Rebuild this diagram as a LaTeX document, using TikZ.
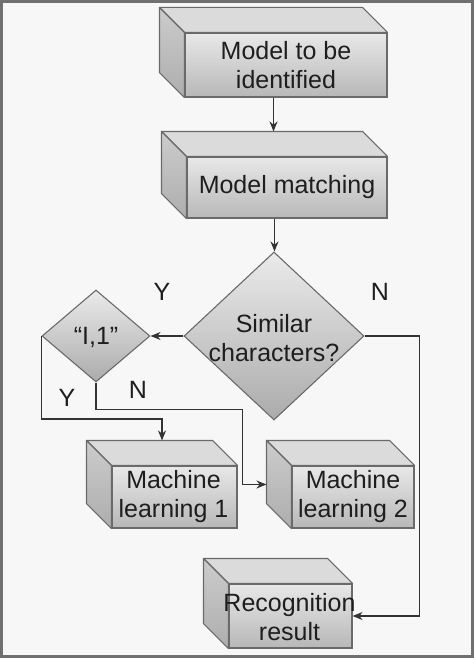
\documentclass[tikz,border=0pt]{standalone}
\usepackage{fontspec}
\setmainfont{Liberation Sans}
\usetikzlibrary{shapes.geometric,arrows.meta,calc}
\definecolor{edgec}{HTML}{6A6A6A}
\definecolor{linec}{HTML}{333333}
\definecolor{txtc}{HTML}{1E1E1E}
\definecolor{bgc}{HTML}{F7F7F7}
\definecolor{framec}{HTML}{707070}
\newcommand\cubefaces[1]{%
  \draw[face,fill=topface] (#1.north west) -- ++(-25,-25) -- ($(#1.north east)+(-25,-25)$) -- (#1.north east) -- cycle;
  \draw[face,top color=leftA,bottom color=leftB] (#1.north west) -- ++(-25,-25) -- ($(#1.south west)+(-25,-25)$) -- (#1.south west) -- cycle;
  \coordinate (#1-top) at ($(#1.north)+(-12.5,-25)$);
  \coordinate (#1-bot) at ($(#1.south)+(-12.5,0)$);
  \coordinate (#1-left) at ($(#1.west)+(-25,-12.5)$);
}
\colorlet{topface}{black!14}
\colorlet{leftA}{black!20}
\colorlet{leftB}{black!32}
\tikzset{
  face/.style={draw=edgec,line width=1.1pt,line join=round},
  front/.style={draw=edgec,line width=1.1pt,top color=black!9,bottom color=black!28,inner sep=0pt,shape=rectangle},
  dia/.style={draw=edgec,line width=1.1pt,shape=diamond,top color=black!8,bottom color=black!33,inner sep=0pt},
  txt/.style={text=txtc,font=\fontsize{25}{29}\selectfont,align=center,inner sep=0pt},
  conn/.style={draw=linec,line width=1.3pt},
  arr/.style={conn,-{Stealth[length=10pt,width=8pt]}}
}
\begin{document}
\begin{tikzpicture}[x=1pt,y=-1pt]
\useasboundingbox (0,0) rectangle (474,658);
\fill[bgc] (0,0) rectangle (474,658);
\draw[framec,line width=3pt] (1.5,1.5) rectangle (472.5,656.5);
% boxes
\node[front,minimum width=202pt,minimum height=64pt] (b1) at (286,65) {};
\cubefaces{b1}
\node[txt] (b1t) at (b1) {Model to be\\identified};
\node[front,minimum width=200pt,minimum height=61pt] (b2) at (287,187.5) {};
\cubefaces{b2}
\node[txt] (b2t) at (b2) {Model matching};
\node[front,minimum width=125pt,minimum height=62pt] (ml1) at (174.5,497) {};
\cubefaces{ml1}
\node[txt] (ml1t) at ($(ml1)+(-1,0)$) {Machine\\learning 1};
\node[front,minimum width=122pt,minimum height=62pt] (ml2) at (353,497) {};
\cubefaces{ml2}
\node[txt] (ml2t) at (ml2) {Machine\\learning 2};
\node[front,minimum width=123pt,minimum height=64pt] (rec) at (290.5,616) {};
\cubefaces{rec}
\node[txt] (rect) at ($(rec)+(-1,1)$) {Recognition\\result};
% diamonds
\node[dia,minimum width=180pt,minimum height=168pt] (d1) at (274,336) {};
\node[txt] (d1t) at (274,338) {Similar\\characters?};
\node[dia,minimum width=108pt,minimum height=92pt] (d2) at (96,336) {};
\node[txt] (d2t) at (96,337) {“I,1”};
% connectors
\draw[arr] (b1-bot) -- (b1-bot |- b2-top);
\draw[arr] (b2-bot) -- (b2-bot |- d1.north);
\draw[arr] (d1.west) -- (d2.east);
\draw[arr] (d1.east) -- ++(55,0) |- (rec.east);
\draw[arr] (d2.west) -- ++(0,83) -| (ml1-top);
\draw[arr] (d2.south) -- ++(0,27) -| ($(ml2-left)+(-24,0)$) -- (ml2-left);
% labels
\node[txt] (ly1) at (162,292) {Y};
\node[txt] (ln1) at (380,292) {N};
\node[txt] (ly2) at (67,398) {Y};
\node[txt] (ln2) at (138,390) {N};
\end{tikzpicture}
\end{document}
